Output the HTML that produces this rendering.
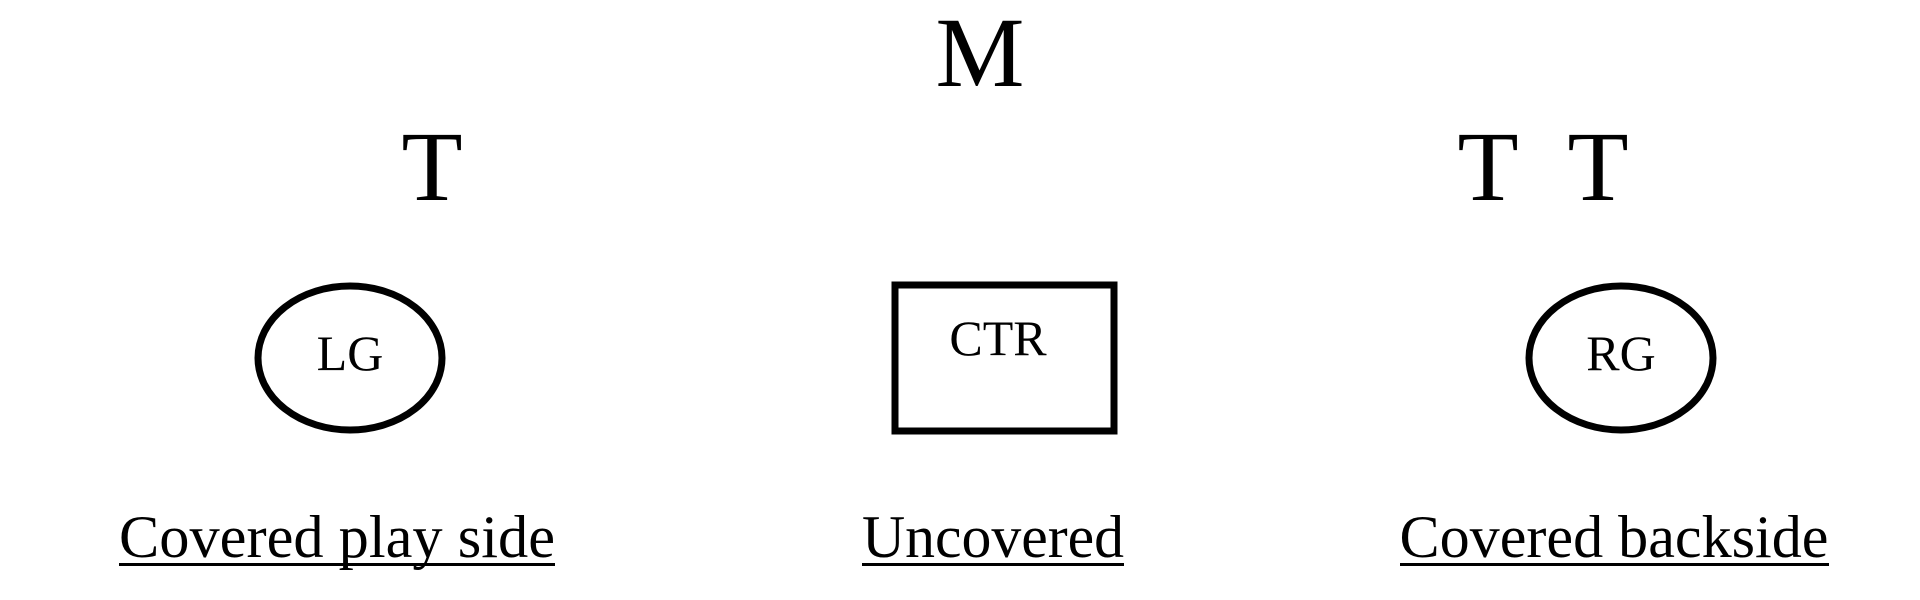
<!DOCTYPE html>
<html><head><style>html,body{margin:0;padding:0;background:#fff;}svg{display:block}</style></head>
<body>
<svg width="1920" height="600" viewBox="0 0 1920 600" xmlns="http://www.w3.org/2000/svg" font-family="Liberation Serif, serif" fill="#000">
<text x="980" y="86" font-size="100" text-anchor="middle">M</text>
<text x="432" y="200" font-size="100" text-anchor="middle">T</text>
<text x="1488" y="200" font-size="100" text-anchor="middle">T</text>
<text x="1598" y="200" font-size="100" text-anchor="middle">T</text>
<ellipse cx="350" cy="358" rx="92" ry="72" fill="none" stroke="#000" stroke-width="7"/>
<text x="350" y="370" font-size="50" text-anchor="middle">LG</text>
<rect x="895" y="285" width="219" height="146" fill="none" stroke="#000" stroke-width="7"/>
<text x="998" y="355" font-size="50" text-anchor="middle">CTR</text>
<ellipse cx="1621" cy="358" rx="92" ry="72" fill="none" stroke="#000" stroke-width="7"/>
<text x="1621" y="370" font-size="50" text-anchor="middle">RG</text>
<text x="337" y="557" font-size="60" text-anchor="middle" textLength="436" lengthAdjust="spacingAndGlyphs">Covered play side</text>
<rect x="119" y="563" width="436" height="3"/>
<text x="993" y="557" font-size="60" text-anchor="middle" textLength="262" lengthAdjust="spacingAndGlyphs">Uncovered</text>
<rect x="862" y="563" width="262" height="3"/>
<text x="1614" y="557" font-size="60" text-anchor="middle" textLength="429" lengthAdjust="spacingAndGlyphs">Covered backside</text>
<rect x="1400" y="563" width="429" height="3"/>
</svg>
</body></html>
